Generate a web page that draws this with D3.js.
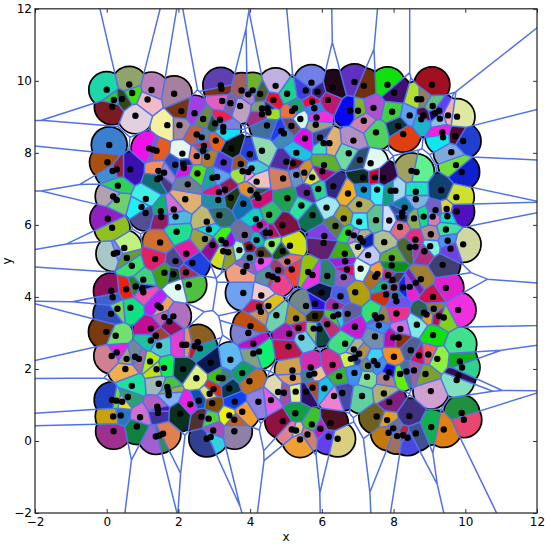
<!DOCTYPE html>
<html><head><meta charset="utf-8">
<script src="https://cdn.jsdelivr.net/npm/d3@7"></script>
<style>html,body{margin:0;background:#fff}svg{display:block}text{font-family:"DejaVu Sans";fill:#000}</style>
</head><body><svg id="c" width="550" height="545"></svg>
<script>
const xTicks=[-2,0,2,4,6,8,10,12];
const yTicks=[-2,0,2,4,6,8,10,12];
const cellRadius=0.5;
const siteX=[
0.00,0.63,1.25,1.88,0.20,0.425,0.71,0.155,1.14,0.80,
2.08,2.45,1.69,2.03,2.69,0.07,1.18,1.29,1.39,2.11,
2.51,2.65,3.02,3.16,3.25,3.25,3.04,2.71,2.69,2.80,
0.02,0.165,0.28,0.66,1.44,1.60,1.41,1.48,1.91,2.14,
2.15,2.53,2.51,2.26,2.19,0.31,1.09,0.18,0.28,0.97,
1.085,1.51,1.52,1.87,1.92,2.79,0.03,0.15,0.49,1.95,
1.49,2.74,2.85,0.20,0.29,0.56,0.70,1.35,1.92,2.22,
2.39,1.02,1.61,1.86,2.21,1.99,2.29,0.13,0.54,0.81,
0.99,1.02,0.165,0.30,0.66,0.12,1.42,1.50,1.61,1.86,
1.75,1.23,1.37,1.23,-0.01,0.25,1.46,2.11,2.22,2.54,
2.46,2.60,0.14,0.28,0.555,0.79,0.90,1.21,1.39,1.60,
2.13,2.50,0.52,0.70,1.45,1.69,1.72,1.73,0.15,0.27,
0.43,0.59,1.41,1.43,1.43,2.33,2.57,2.05,2.64,0.18,
0.39,0.93,0.84,0.19,1.37,1.47,1.57,2.79,2.84,2.90,
3.45,4.09,4.09,4.25,5.18,5.19,5.69,6.30,3.78,3.98,
3.13,3.23,2.98,2.87,3.42,3.57,2.94,4.23,4.58,4.78,
4.94,5.27,5.56,5.74,5.65,5.79,6.07,6.48,6.34,6.57,
6.91,7.12,7.29,6.81,6.92,7.04,7.45,7.55,7.26,7.53,
3.42,3.78,3.56,2.97,2.90,3.56,5.26,4.91,5.16,5.28,
5.39,5.60,5.72,5.96,6.24,6.19,6.44,8.01,7.88,7.80,
8.18,8.36,8.57,8.71,8.97,9.22,9.85,9.91,8.89,9.81,
9.76,9.04,7.73,7.88,7.82,8.44,7.86,7.99,8.10,8.27,
8.39,8.62,9.05,9.40,9.90,9.96,9.48,9.76,8.31,8.24,
8.24,8.57,8.84,9.09,9.17,9.50,7.51,7.88,8.18,7.04,
9.46,9.04,8.61,9.51,7.74,7.14,7.07,8.45,8.61,9.02,
9.59,9.94,8.86,7.29,7.95,7.95,9.37,7.08,7.55,7.49,
7.85,7.97,8.62,8.76,8.27,8.45,7.74,8.01,7.79,8.04,
8.08,9.46,9.10,9.80,7.48,7.54,7.66,8.08,8.85,8.92,
9.12,9.27,9.40,7.59,8.19,8.65,9.10,9.82,7.48,7.99,
8.14,8.48,3.14,2.95,3.20,3.32,3.25,3.39,3.11,3.46,
3.81,4.01,4.18,4.16,4.53,3.85,4.27,4.18,4.44,4.55,
4.90,3.70,3.98,4.60,4.30,3.99,4.30,3.90,3.81,4.91,
5.11,5.04,5.16,4.78,4.51,4.63,4.76,3.81,4.31,4.25,
4.30,4.51,4.73,4.01,3.95,5.09,5.07,5.28,5.35,5.43,
5.56,5.81,6.38,6.52,5.99,5.77,5.93,5.81,6.15,6.32,
6.46,6.72,6.92,6.65,6.89,6.93,5.43,5.74,6.13,6.61,
6.38,6.07,6.05,6.74,6.89,7.01,6.64,6.65,6.70,6.61,
5.62,5.74,6.15,3.18,3.20,3.76,4.07,3.95,4.28,4.71,
5.03,4.65,3.22,3.45,3.72,4.33,4.48,4.51,4.33,5.17,
5.25,5.55,5.71,5.88,6.31,6.91,7.17,5.73,6.17,5.79,
5.40,5.85,6.79,7.01,7.44,7.17,7.51,4.47,4.87,4.94,
5.15,5.53,5.83,5.95,6.05,6.21,6.88,6.75,4.33,3.99,
3.26,3.74,2.95,3.08,3.48,3.79,4.04,3.95,4.18,5.01,
5.29,5.20,4.92,5.29,5.51,5.73,5.58,5.04,6.06,6.01,
6.32,5.90,6.73,7.15,7.36,7.06,7.48,7.17,7.54,7.04,
4.23,3.13,3.30,7.83,8.02,9.07,8.66,8.77,9.09,9.27,
9.16,9.52,9.77,9.29,8.83,8.77,8.45,7.96,8.13,8.27,
9.36,9.38,9.72,9.94,9.61,9.74,9.90,8.50,8.64,7.71,
7.92,8.05,8.62,9.33,9.75,8.62
];
const siteY=[
9.755,9.90,9.745,9.64,9.47,9.495,9.66,9.28,9.48,9.03,
9.16,9.10,8.77,8.77,8.94,8.22,8.125,8.09,8.06,7.98,
8.51,8.43,8.82,8.92,8.72,8.59,8.34,8.19,8.06,7.89,
7.74,7.495,7.54,7.54,7.50,7.45,7.27,7.31,7.67,7.68,
7.58,7.43,7.91,7.125,6.71,7.09,6.72,6.79,6.69,6.50,
6.33,6.38,6.22,6.43,6.23,6.09,6.17,5.92,5.36,5.81,
5.51,5.61,5.875,5.20,5.23,5.08,4.865,5.05,4.995,5.20,
4.94,4.48,4.67,4.63,4.68,4.27,4.34,4.17,4.21,4.29,
4.23,4.13,3.99,3.67,3.70,3.53,3.76,3.70,3.44,3.46,
3.32,3.12,2.92,2.79,3.03,2.92,2.65,2.67,2.67,2.74,
2.63,2.57,2.36,2.46,2.28,2.34,2.28,2.21,1.99,2.03,
1.995,1.74,2.00,1.53,1.59,1.50,1.385,1.27,1.14,1.12,
1.09,1.22,0.95,0.875,0.78,1.02,1.12,0.76,0.67,0.68,
0.71,0.66,0.40,0.27,0.125,0.15,0.20,0.06,0.62,2.17,
2.255,2.70,2.43,2.485,1.96,1.755,2.04,2.11,1.885,1.66,
1.755,1.74,1.44,1.31,1.46,1.09,1.05,1.09,1.135,1.36,
1.34,1.37,1.37,1.48,1.83,1.87,1.46,1.80,1.25,1.33,
1.89,1.25,2.09,2.28,2.31,2.42,2.22,2.11,1.78,0.68,
0.71,0.81,0.59,0.29,0.11,0.27,0.77,0.55,0.32,0.29,
0.04,0.18,0.46,0.34,0.49,0.12,0.06,2.34,1.91,1.76,
1.86,1.93,1.96,2.375,2.40,2.28,2.21,2.04,1.86,1.82,
1.69,1.385,1.32,1.08,0.58,0.69,0.23,0.35,0.135,0.16,
0.09,0.21,0.385,0.32,0.78,0.59,6.44,6.37,6.48,6.34,
6.24,6.18,6.23,6.23,6.41,6.24,6.13,6.12,5.94,6.09,
5.87,5.74,5.59,5.56,5.52,5.53,5.63,5.38,5.39,5.41,
5.34,5.46,5.27,5.16,5.08,4.875,4.89,4.78,4.64,4.56,
4.60,4.47,4.39,4.49,4.26,4.28,4.28,4.26,4.07,4.02,
3.88,4.25,4.00,3.64,3.49,3.40,3.43,3.54,3.56,3.51,
3.67,3.47,3.43,3.21,3.11,3.23,2.94,2.68,2.90,2.875,
2.87,2.52,6.27,5.44,5.58,5.49,5.27,5.24,6.69,6.755,
6.59,6.96,6.84,6.16,6.28,5.72,5.99,5.58,5.78,5.78,
5.99,5.30,5.38,5.47,5.20,5.09,4.99,4.86,4.70,5.27,
5.42,4.98,4.76,4.74,4.60,4.56,4.49,4.11,4.04,3.73,
3.59,3.75,3.49,3.19,3.00,2.98,2.62,3.40,3.14,2.87,
3.75,3.81,3.75,4.02,4.12,3.12,3.11,3.47,3.24,3.46,
3.51,3.53,3.17,2.70,2.54,4.13,6.54,6.27,6.48,6.18,
5.97,5.69,5.50,5.78,5.71,5.39,5.20,4.99,4.76,4.55,
4.69,4.61,4.58,9.875,9.78,9.73,9.735,9.625,9.635,9.86,
9.64,9.47,9.44,9.38,9.30,9.23,9.23,9.12,9.07,9.16,
9.24,9.73,9.95,9.70,9.81,9.97,9.86,9.42,9.47,9.24,
8.94,8.98,9.17,9.17,9.25,8.89,8.57,8.76,8.61,8.54,
8.745,8.40,8.78,8.42,8.27,8.27,8.34,7.99,8.06,7.96,
7.735,7.69,7.31,7.33,8.115,7.49,7.57,7.47,7.20,7.755,
8.00,7.71,7.29,7.39,7.45,7.32,6.89,6.74,7.66,7.49,
7.07,6.995,6.87,7.31,7.71,7.80,7.32,6.98,6.98,6.57,
6.75,6.91,6.975,9.89,9.67,9.89,9.49,9.49,9.30,9.17,
9.10,9.04,9.005,8.95,9.04,8.93,9.04,9.14,8.745,8.52,
8.57,8.43,8.46,8.33,8.02,7.66,7.47,7.50,7.47,7.31,
6.95,6.95,6.92,6.96,6.77,6.71
];
const cellColors=[
"#1fd6a8","#8fa36a","#b77fb5","#a5809f","#2bd02b","#2f4a10","#40e010","#7a1a22","#f5b8c8","#e0d0e0",
"#7a3510","#a040e0","#f5f0a0","#a88aa0","#708a40","#3b7fcf","#f010e8","#a04fb0","#e85a20","#e8f4f0",
"#c06040","#6080a0","#2a5a30","#f02050","#8080d8","#10e0f0","#f06010","#c04060","#107050","#b08030",
"#a8500f","#4090d0","#902040","#3a10b0","#f09060","#a080d0","#107070","#4a3a80","#3050c0","#1b2f80",
"#e010e0","#50e020","#f08060","#708098","#e0b070","#30d060","#40f0e0","#b0a0b0","#70d070","#20f0f0",
"#505090","#10b070","#902060","#d070d0","#50b8e0","#c0b870","#9020c0","#90c020","#c0f080","#20e090",
"#d07030","#a0a040","#10e0d0","#a8c8c8","#9080f0","#60a030","#40e070","#e02060","#504890","#e020a0",
"#2040e0","#40d080","#40a010","#205020","#a03060","#e0f8f0","#50c040","#901060","#f02010","#308020",
"#101850","#f050b0","#4060d0","#80d060","#10e080","#3050c0","#c020f0","#f0a060","#c060b0","#b070c0",
"#a01060","#c01090","#a04030","#20c0a0","#7a3a10","#70e070","#50c8d0","#e040d0","#f09050","#8a6020",
"#c02020","#10a090","#d08090","#f020e0","#b0a070","#708898","#a070a0","#b0f010","#c0e010","#10f050",
"#0a3a2a","#e0f080","#f0b050","#20e0a0","#a0b8b8","#50c040","#a0b030","#80b0f0","#2040c0","#70e030",
"#f0e010","#30a070","#b060c0","#5010c0","#4030a0","#f020e0","#1050b0","#0a3020","#503030","#c8a010",
"#2878c0","#d070d0","#108040","#a03090","#a060d0","#3a8a50","#e08050","#304090","#50d040","#0a1a50",
"#60b8f0","#c010c0","#80a080","#10f070","#d0a050","#e0a060","#d030b0","#d03090","#10a060","#c07020",
"#40c010","#408080","#d03010","#e0e060","#0a3a50","#1040f0","#805000","#9080e0","#e060e0","#e0d8b0",
"#a050a0","#e0f080","#301060","#b05020","#408090","#f0c090","#20c0e0","#40b030","#f080d0","#4848a8",
"#4090f0","#60d0a0","#709070","#d0f050","#304080","#b09050","#40d0f0","#4090f0","#80e090","#706020",
"#f0f010","#f0a030","#d06010","#a050c0","#30d0e0","#9080a8","#10a040","#901040","#e08090","#e0c890",
"#f0a030","#d08070","#40c030","#c020c0","#501020","#6040f0","#d8d080","#f09020","#2010e0","#b08090",
"#60f010","#507090","#a060a0","#e01060","#f06060","#90f040","#10b020","#30d090","#80a030","#301050",
"#80e0c0","#d0a0d0","#b0b070","#802080","#e0a020","#403080","#c07810","#707090","#a07060","#c02030",
"#4848e0","#405090","#10b050","#e08010","#209040","#e84870","#e0d040","#5010c0","#1080a0","#305090",
"#203070","#90b050","#10e080","#d080b0","#7060c0","#10e0c0","#60c090","#d0e0ff","#e07080","#40f0f0",
"#40e0a0","#b09090","#e03080","#5090f0","#b0c090","#1020b0","#b0b080","#506830","#c03090","#80f0e0",
"#7040e0","#d0d8a0","#b03080","#c0c8f8","#60b030","#109010","#404070","#d8f8e8","#f0a030","#b07020",
"#c03070","#404040","#8020b0","#a08030","#2020f0","#f020d0","#20b080","#c04010","#d03010","#2080a0",
"#7050f0","#e020d0","#d01050","#f030e0","#30e070","#7060c0","#a08050","#f03090","#306050","#e0a030",
"#908040","#c01040","#80d020","#4090f0","#d070e0","#80e8e0","#10e010","#40e090","#7090b0","#c010b0",
"#903010","#506090","#307070","#901090","#40f010","#a010e0","#d0e020","#90a030","#2090a0","#204010",
"#1070b0","#e09030","#306010","#10d0c0","#30c060","#7070a0","#e010a0","#10c0b0","#304080","#c01060",
"#801040","#b0f0c0","#a01020","#80f060","#604020","#508888","#f050f0","#a060b0","#f0a080","#205010",
"#d0e010","#e07060","#f04040","#a04060","#6090a0","#d04030","#f04090","#70a0f0","#f0c8d0","#d02050",
"#d09050","#e0c020","#70d0b0","#c05010","#8080d0","#b020b0","#c01850","#b09020","#e01060","#70d0e0",
"#708888","#3010e0","#a030a0","#5060e0","#101840","#90c060","#104840","#403000","#c03070","#60c020",
"#40c0e0","#6060a0","#c020d0","#40e080","#b0b090","#b0a010","#30e0a0","#107050","#a0e8f0","#a0a020",
"#608040","#8040e0","#602070","#30e030","#c080c0","#d0d8a0","#40b010","#a020e0","#e01070","#9060c0",
"#90c010","#f030e0","#308070","#6040b0","#803010","#a06060","#70b030","#b080c0","#506030","#c0b0e0",
"#20d090","#f01030","#e060c0","#8060a0","#c0a0c0","#80a070","#204060","#a0e020","#a03080","#f07040",
"#20a070","#4040e0","#7080e8","#402080","#200818","#6030c0","#703010","#f01040","#c01870","#4080e0",
"#d0f8e8","#f030e0","#0808f0","#80b030","#b050d0","#d080b0","#50d060","#4070a0","#2040f0","#4088b8",
"#705060","#e010e0","#a0a088","#405090","#40e0b0","#e0b070","#b090c0","#70d8a0","#90d8b0","#3040d0",
"#5040e0","#a05820","#20a0a0","#60a0f0","#101808","#a0e040","#50c8d0","#f0a0d0","#f0c0c0","#5030a0",
"#20c0e0","#801030","#d08060","#7090c0","#d09030","#e0e040","#6030a0","#20a050","#60b030","#b01070",
"#302880","#30d090","#f0b020","#103028","#e0f8f0","#305070","#d00030","#10a0d0","#40f0f0","#b0b060",
"#d01070","#e01880","#902050","#10e010","#401070","#a01020","#b0e030","#908060","#60c080","#6040f0",
"#100880","#f0b0b0","#e0e8a0","#90c0e0","#501040","#20b0d0","#60a0f0","#40d040","#103840","#e04010",
"#f020e0","#10e8f0","#500830","#2040d0","#80a8d8","#70e040","#1020d0","#a0a060","#60f090","#300840",
"#10a080","#a0d8f0","#20e0c0","#104070","#d0e030","#80b0e0"
];

const pL=35,pR=537,pT=8.8,pB=513;
const x=d3.scaleLinear().domain([-2,12]).range([pL,pR]);
const y=d3.scaleLinear().domain([-2,12]).range([pB,pT]);
const svg=d3.select("#c");
const defs=svg.append("defs");
defs.append("clipPath").attr("id","plot").append("rect").attr("x",pL).attr("y",pT).attr("width",pR-pL).attr("height",pB-pT);

const pts=siteX.map((v,i)=>[x(v),y(siteY[i])]);
const delaunay=d3.Delaunay.from(pts);
const vor=delaunay.voronoi([-4000,-4000,4000,4000]);
const rx=x(cellRadius)-x(0), ry=y(0)-y(cellRadius);

const g=svg.append("g").attr("clip-path","url(#plot)");
pts.forEach((p,i)=>{
  const circ=defs.append("clipPath").attr("id","ci"+i);
  circ.append("ellipse").attr("cx",p[0]).attr("cy",p[1]).attr("rx",rx).attr("ry",ry);
  const cell=defs.append("clipPath").attr("id","ce"+i);
  cell.append("path").attr("d",vor.renderCell(i));
  g.append("path").attr("d",vor.renderCell(i)).attr("fill",cellColors[i]).attr("clip-path",`url(#ci${i})`);
});
pts.forEach((p,i)=>{
  g.append("ellipse").attr("cx",p[0]).attr("cy",p[1]).attr("rx",rx).attr("ry",ry)
   .attr("fill","none").attr("stroke","#000").attr("stroke-width",1.7).attr("clip-path",`url(#ce${i})`);
});
g.append("path").attr("d",vor.render()).attr("fill","none").attr("stroke","#4f72e6").attr("stroke-width",1.5);
g.selectAll("circle.site").data(pts).join("circle").attr("class","site")
  .attr("cx",d=>d[0]).attr("cy",d=>d[1]).attr("r",3.2).attr("fill","#000");

const fmt=d3.format("d");
const ax=svg.append("g").attr("transform",`translate(0,${pB})`).call(d3.axisBottom(x).tickValues(xTicks).tickFormat(fmt).tickSize(-4).tickPadding(4));
const axT=svg.append("g").attr("transform",`translate(0,${pT})`).call(d3.axisTop(x).tickValues(xTicks).tickFormat("").tickSize(-4));
const ay=svg.append("g").attr("transform",`translate(${pL},0)`).call(d3.axisLeft(y).tickValues(yTicks).tickFormat(fmt).tickSize(-4).tickPadding(3));
const ayR=svg.append("g").attr("transform",`translate(${pR},0)`).call(d3.axisRight(y).tickValues(yTicks).tickFormat("").tickSize(-4));
[ax,axT,ay,ayR].forEach(a=>{a.selectAll(".domain").remove();a.selectAll("line").attr("stroke","#000").attr("stroke-width",0.8);a.selectAll("text").attr("font-size",12).attr("font-family","DejaVu Sans").attr("fill","#000")});
svg.append("rect").attr("x",pL).attr("y",pT).attr("width",pR-pL).attr("height",pB-pT).attr("fill","none").attr("stroke","#222").attr("stroke-width",1.2);
svg.append("text").attr("x",(pL+pR)/2).attr("y",541).attr("text-anchor","middle").attr("font-size",12).text("x");
svg.append("text").attr("transform","translate(11,261) rotate(-90)").attr("text-anchor","middle").attr("font-size",12).text("y");
</script></body></html>
